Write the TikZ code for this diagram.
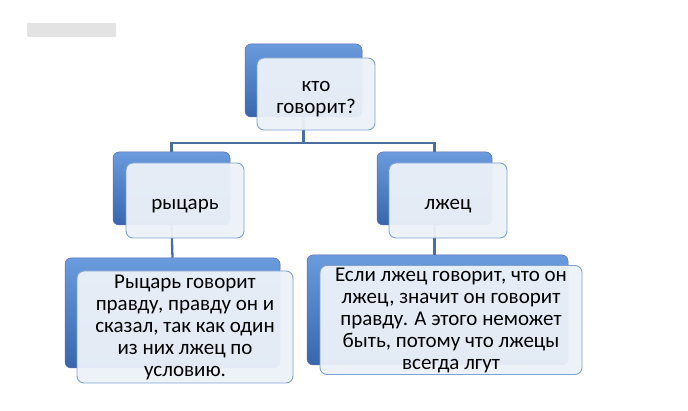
\documentclass[tikz,border=0pt]{standalone}
\usepackage{fontspec}
\setmainfont{Carlito}
\tikzset{
  backbox/.style={rounded corners=6pt, draw=blue!50!black!60, line width=0.5pt,
    top color=blueTop, bottom color=blueBot, inner sep=0pt},
  frontbox/.style={rounded corners=7pt, draw=frontBorder, line width=0.9pt,
    fill=frontFill, fill opacity=0.95, text opacity=1, inner sep=1pt,
    align=center, font=\fontsize{21}{22}\selectfont},
  txt/.style={inner sep=0pt, align=center, font=\fontsize{21}{22}\selectfont},
  conn/.style={draw=connColor, line width=2.3pt}
}
\definecolor{blueTop}{HTML}{6A9BDD}
\definecolor{blueBot}{HTML}{3766AD}
\definecolor{frontFill}{HTML}{EDF2F9}
\definecolor{frontBorder}{HTML}{7FA2D0}
\definecolor{connColor}{HTML}{4A6F9C}
\begin{document}
\begin{tikzpicture}[x=1pt,y=-1pt]
\useasboundingbox (0,0) rectangle (688,411);
\fill[white] (0,0) rectangle (688,411);
% blurred grey label
\fill[gray!22, rounded corners=1pt] (27,23) rectangle (116,37);
% back boxes
\node[backbox, minimum width=117pt, minimum height=73pt] (bT) at (303.5,80.5) {};
\node[backbox, minimum width=117pt, minimum height=73pt] (bL) at (171.5,188.5) {};
\node[backbox, minimum width=115pt, minimum height=73pt] (bR) at (434.5,188.5) {};
\node[backbox, minimum width=215pt, minimum height=110pt] (bBL) at (172.5,313) {};
\node[backbox, minimum width=261pt, minimum height=110pt] (bBR) at (437.5,310) {};
% connectors
\coordinate (j) at (303.5,143);
\draw[conn] (bT.south) -- (j);
\draw[conn] (bL.north) |- (j) -| (bR.north);
\draw[conn] (bL.south) -- (bBL.north);
\draw[conn] (bR.south) -- (bBR.north -| bR.south);
% front boxes
\node[frontbox, minimum width=118pt, minimum height=72pt] (fT) at (316,94) {};
\node[txt] (tT) at ([yshift=-5.5pt]fT.center) {кто\\говорит?};
\node[frontbox, minimum width=118pt, minimum height=75pt] (fL) at (185,200.5) {};
\node[txt] (tL) at ([yshift=-6pt]fL.center) {рыцарь};
\node[frontbox, minimum width=118pt, minimum height=75pt] (fR) at (448,200.5) {};
\node[txt] (tR) at ([yshift=-6pt]fR.center) {лжец};
\node[frontbox, minimum width=216pt, minimum height=112pt] (fBL) at (185,327) {Рыцарь говорит\\правду, правду он и\\сказал, так как один\\из них лжец по\\условию.};
\node[frontbox, minimum width=262pt, minimum height=109pt] (fBR) at (451,320) {Если лжец говорит, что он\\лжец, значит он говорит\\правду. А этого неможет\\быть, потому что лжецы\\всегда лгут};
\end{tikzpicture}
\end{document}
